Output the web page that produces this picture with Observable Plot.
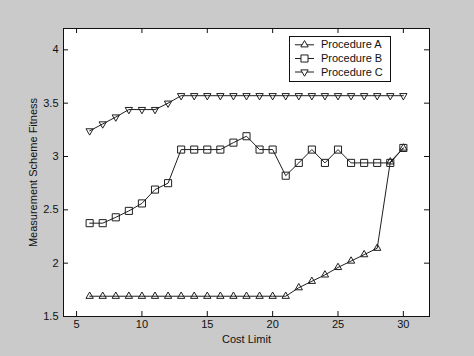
<!DOCTYPE html>
<html><head><meta charset="utf-8">
<script src="https://cdn.jsdelivr.net/npm/d3@7"></script>
<script src="https://cdn.jsdelivr.net/npm/@observablehq/plot@0.6"></script>
<style>
html,body{margin:0;padding:0;background:#cacaca;}
#chart{width:474px;height:356px;}
#chart svg{background:transparent;font-family:"Liberation Sans",Arial,sans-serif;}
</style></head><body><div id="chart"></div>
<script>
const costLimit = [6,7,8,9,10,11,12,13,14,15,16,17,18,19,20,21,22,23,24,25,26,27,28,29,30];
const procA = [1.69,1.69,1.69,1.69,1.69,1.69,1.69,1.69,1.69,1.69,1.69,1.69,1.69,1.69,1.69,1.69,1.77,1.83,1.89,1.96,2.02,2.08,2.14,2.95,3.08];
const procB = [2.375,2.375,2.43,2.49,2.56,2.69,2.75,3.065,3.065,3.065,3.065,3.13,3.19,3.065,3.065,2.82,2.94,3.065,2.94,3.065,2.94,2.94,2.94,2.94,3.08];
const procC = [3.24,3.305,3.37,3.44,3.44,3.44,3.5,3.57,3.57,3.57,3.57,3.57,3.57,3.57,3.57,3.57,3.57,3.57,3.57,3.57,3.57,3.57,3.57,3.57,3.57];
const seriesNames = ["Procedure A","Procedure B","Procedure C"];
const xTicks = [5,10,15,20,25,30];
const yTicks = [1.5,2,2.5,3,3.5,4];
const xLabel = "Cost Limit";
const yLabel = "Measurement Scheme Fitness";

const seriesValues = [procA, procB, procC];
const downTriangle = {draw(ctx, size){
  const s = Math.sqrt(size) * 0.6824, t = s / 2, u = s * Math.sqrt(3) / 2;
  ctx.moveTo(0, s); ctx.lineTo(u, -t); ctx.lineTo(-u, -t); ctx.closePath();
}};
const legendLine = {draw(ctx){ ctx.moveTo(-9.5, 0); ctx.lineTo(9.5, 0); }};
const symbols = [
  {symbol:"triangle2", r:3.5},
  {symbol:"square", r:4},
  {symbol:downTriangle, r:3.5}
];
const rows = seriesNames.flatMap((name,i)=>costLimit.map((c,j)=>({series:name, cost:c, value:seriesValues[i][j]})));

const ink = "#1e1e1e";
const fs = 11;
const W = 474, H = 356, mL = 63, mR = 45, mT = 28, mB = 40;
const innerW = W - mL - mR, innerH = H - mT - mB, tk = 5;

const marks = [
  Plot.frame({fill:"white", stroke:null}),
  Plot.line(rows, {x:"cost", y:"value", z:"series", stroke:ink, strokeWidth:1}),
];
seriesNames.forEach((name,i)=>{
  marks.push(Plot.dot(rows.filter(d=>d.series===name), {x:"cost", y:"value", symbol:symbols[i].symbol, r:symbols[i].r, stroke:ink, fill:"none", strokeWidth:1}));
});
marks.push(
  Plot.frame({stroke:"#111", strokeWidth:1}),
  Plot.tickX(xTicks, {x:d=>d, insetTop:innerH - tk, stroke:"#111"}),
  Plot.tickX(xTicks, {x:d=>d, insetBottom:innerH - tk, stroke:"#111"}),
  Plot.tickY(yTicks, {y:d=>d, insetRight:innerW - tk, stroke:"#111"}),
  Plot.tickY(yTicks, {y:d=>d, insetLeft:innerW - tk, stroke:"#111"}),
  Plot.text([xLabel], {frameAnchor:"bottom", dy:23, text:d=>d, textAnchor:"middle", lineAnchor:"middle", fontSize:fs, fill:"#111"}),
  Plot.text([yLabel], {frameAnchor:"left", dx:-30, rotate:-90, text:d=>d, textAnchor:"middle", lineAnchor:"middle", fontSize:fs, fill:"#111"}),
  // legend box
  Plot.frame({insetLeft:226, insetRight:39, insetTop:8, insetBottom:235, fill:"white", stroke:"#111", strokeWidth:1})
);
const rowDy = [16.3, 30, 43.5];
seriesNames.forEach((name,i)=>{
  marks.push(
    Plot.dot([name], {frameAnchor:"top-left", dx:241, dy:rowDy[i], symbol:legendLine, r:3, stroke:ink, fill:"none", strokeWidth:1}),
    Plot.dot([name], {frameAnchor:"top-left", dx:241, dy:rowDy[i], symbol:symbols[i].symbol, r:symbols[i].r, stroke:ink, fill:"white", strokeWidth:1}),
    Plot.text([name], {frameAnchor:"top-left", dx:257.5, dy:rowDy[i], text:d=>d, textAnchor:"start", lineAnchor:"middle", fontSize:fs, fill:"#111"})
  );
});

const chart = Plot.plot({
  width:W, height:H,
  marginLeft:mL, marginRight:mR, marginTop:mT, marginBottom:mB,
  style:{background:"transparent", fontFamily:"'Liberation Sans', Arial, sans-serif", fontSize:"11px", color:"#111"},
  x:{domain:[4,32], ticks:xTicks, tickSize:0, tickPadding:4, tickFormat:d=>String(d), label:null},
  y:{domain:[1.5,4.2], ticks:yTicks, tickSize:0, tickPadding:5, tickFormat:d=>String(d), label:null},
  marks
});
document.getElementById("chart").appendChild(chart);
</script>
</body></html>
